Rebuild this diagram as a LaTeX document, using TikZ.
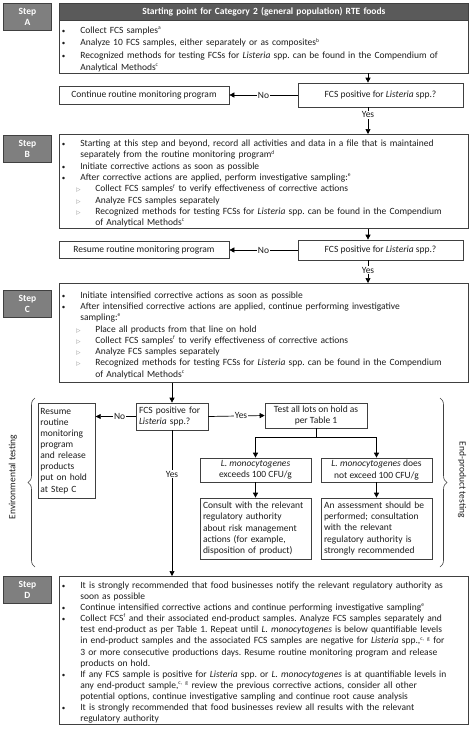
\documentclass[tikz,border=0pt]{standalone}
\usepackage{fontspec}
\setmainfont{Carlito}
\newfontfamily\dejavu{DejaVu Sans}
\usetikzlibrary{arrows.meta,decorations.pathreplacing,calc}
\definecolor{stepgray}{HTML}{7F7F7F}
\definecolor{hdrgray}{HTML}{5A5A5A}
\definecolor{bordergray}{HTML}{404040}
\definecolor{txtc}{HTML}{1E1E1E}
\frenchspacing
\newcommand\fnm[1]{\textsuperscript{\fontsize{5.5}{6}\selectfont #1}}
\newcommand\nl{\hfil\break}
\newcommand\bitem[1]{\par\hangindent=21pt\hangafter=1\noindent\makebox[21pt][l]{\hspace{2.5pt}{\fontsize{7}{8}\selectfont\textbullet}}#1}
\newcommand\sitem[1]{\par\hangindent=36pt\hangafter=1\noindent\hspace*{17pt}\makebox[19pt][l]{{\dejavu\fontsize{5.5}{6}\selectfont\color{gray}▷}}#1}
\begin{document}
\begin{tikzpicture}[x=1pt,y=-1pt,
  every node/.style={font=\fontsize{9.5}{11.3}\selectfont\frenchspacing, text=txtc},
  stepbox/.style={draw=bordergray, fill=stepgray, line width=0.8pt, text=white,
    font=\fontsize{9.5}{11}\selectfont\bfseries, minimum width=48pt, minimum height=27pt,
    inner sep=0pt, align=center, anchor=north west},
  mainbox/.style={draw=bordergray, line width=0.7pt, fill=white, inner xsep=0pt, inner ysep=1pt,
    text width=409pt, align=left, anchor=north west},
  smallbox/.style={draw=bordergray, line width=0.7pt, fill=white, inner sep=1.5pt, align=center},
  arr/.style={line width=0.7pt, -{Triangle[length=5pt,width=5pt]}},
  lbl/.style={fill=white, inner sep=1pt, font=\fontsize{9.5}{11}\selectfont}
]
\useasboundingbox (0,0) rectangle (474,732);
\fill[white] (0,0) rectangle (474,732);

% ---- Step A
\node[stepbox] (stepA) at (3,3) {Step\\A};
\node[mainbox, fill=hdrgray, text=white, minimum height=17pt, align=center,
  font=\fontsize{9.5}{11}\selectfont\bfseries] (hdrA) at (59,3)
  {Starting point for Category 2 (general population) RTE foods};
\node[mainbox, minimum height=51pt] (boxA) at (59,20) {\fontsize{9.5}{12.3}\selectfont
  \bitem{Collect FCS samples\fnm{a}}
  \bitem{Analyze 10 FCS samples, either separately or as composites\fnm{b}}
  \bitem{Recognized methods for testing FCSs for \textit{Listeria} spp. can be found in the Compendium of\nl Analytical Methods\fnm{c}}\par};
\node[smallbox, minimum width=165pt, minimum height=24pt] (fcsA) at (380.5,95) {FCS positive for \textit{Listeria} spp.?};
\node[smallbox, minimum width=170pt, minimum height=18pt] (contA) at (144,95) {Continue routine monitoring program};
\coordinate (colR) at (368,0);

% ---- Step B
\node[stepbox] (stepB) at (3,135) {Step\\B};
\node[mainbox, minimum height=94pt] (boxB) at (59,134) {
  \bitem{Starting at this step and beyond, record all activities and data in a file that is maintained\nl separately from the routine monitoring program\fnm{d}}
  \bitem{Initiate corrective actions as soon as possible}
  \bitem{After corrective actions are applied, perform investigative sampling:\fnm{e}}
  \sitem{Collect FCS samples\fnm{f} to verify effectiveness of corrective actions}
  \sitem{Analyze FCS samples separately}
  \sitem{Recognized methods for testing FCSs for \textit{Listeria} spp. can be found in the Compendium\nl of Analytical Methods\fnm{c}}\par};
\node[smallbox, minimum width=165pt, minimum height=20pt] (fcsB) at (380.5,250) {FCS positive for \textit{Listeria} spp.?};
\node[smallbox, minimum width=170pt, minimum height=17pt] (resB) at (144,250) {Resume routine monitoring program};

% ---- Step C
\node[stepbox] (stepC) at (3,290) {Step\\C};
\node[mainbox, minimum height=99pt] (boxC) at (59,283) {
  \bitem{Initiate intensified corrective actions as soon as possible}
  \bitem{After intensified corrective actions are applied, continue performing investigative\nl sampling:\fnm{e}}
  \sitem{Place all products from that line on hold}
  \sitem{Collect FCS samples\fnm{f} to verify effectiveness of corrective actions}
  \sitem{Analyze FCS samples separately}
  \sitem{Recognized methods for testing FCSs for \textit{Listeria} spp. can be found in the Compendium\nl of Analytical Methods\fnm{c}}\par};

\node[smallbox, minimum width=72pt, minimum height=27pt, align=left, text width=66pt] (fcsC) at (172,416.5) {FCS positive for\\\textit{Listeria} spp.?};
\node[smallbox, minimum width=57pt, minimum height=95pt, align=left, text width=53pt, anchor=north west, inner sep=2pt] (resC) at (38,403)
  {\fontsize{9.5}{11.1}\selectfont Resume\\routine\\monitoring\\program\\and release\\products\\put on hold\\at Step C};
\node[smallbox, minimum width=102pt, minimum height=25pt] (lots) at (316,415.5) {Test all lots on hold as\\per Table 1};
\node[smallbox, minimum width=111pt, minimum height=24pt] (lm1) at (255.5,470) {\textit{L. monocytogenes}\\exceeds 100 CFU/g};
\node[smallbox, minimum width=111pt, minimum height=24pt] (lm2) at (376.5,470) {\textit{L. monocytogenes} does\\not exceed 100 CFU/g};
\node[smallbox, minimum width=111pt, minimum height=61pt, align=left, text width=105pt] (cons) at (255.5,528.5)
  {Consult with the relevant\\regulatory authority\\about risk management\\actions (for example,\\disposition of product)};
\node[smallbox, minimum width=111pt, minimum height=61pt, align=left, text width=105pt] (asse) at (376.5,528.5)
  {An assessment should be\\performed; consultation\\with the relevant\\regulatory authority is\\strongly recommended};

% braces
\coordinate (lbB) at (35,567); \coordinate (lbT) at (35,398);
\coordinate (rbT) at (440,398); \coordinate (rbB) at (440,567);
\draw[line width=0.6pt, bordergray, decorate, decoration={brace, amplitude=7pt}] (lbB) -- (lbT);
\draw[line width=0.6pt, bordergray, decorate, decoration={brace, amplitude=7pt}] (rbT) -- (rbB);
\node[rotate=90, font=\fontsize{9.5}{11}\selectfont] (envt) at (13,477) {Environmental testing};
\node[rotate=-90, font=\fontsize{9.5}{11}\selectfont] (endt) at (462,480) {End-product testing};

% ---- Step D
\node[stepbox] (stepD) at (3,576) {Step\\D};
\node[mainbox, minimum height=145pt] (boxD) at (59,576) {\fontsize{9.5}{11.1}\selectfont
  \bitem{It is strongly recommended that food businesses notify the relevant regulatory authority as\nl soon as possible}
  \bitem{Continue intensified corrective actions and continue performing investigative sampling\fnm{e}}
  \bitem{Collect FCS\fnm{f} and their associated end-product samples. Analyze FCS samples separately and\nl test end-product as per Table 1. Repeat until \textit{L. monocytogenes} is below quantifiable levels\nl in end-product samples and the associated FCS samples are negative for \textit{Listeria} spp.,\fnm{c, g} for\nl 3 or more consecutive productions days. Resume routine monitoring program and release\nl products on hold.}
  \bitem{If any FCS sample is positive for \textit{Listeria} spp. or \textit{L. monocytogenes} is at quantifiable levels in\nl any end-product sample,\fnm{c, g} review the previous corrective actions, consider all other\nl potential options, continue investigative sampling and continue root cause analysis}
  \bitem{It is strongly recommended that food businesses review all results with the relevant\nl regulatory authority}\par};

% ---- connectors
\draw[arr] (boxA.south -| colR) -- (fcsA.north -| colR);
\draw[arr] (fcsA.west) -- node[lbl] {No} (contA.east);
\draw[arr] (fcsA.south -| colR) -- node[lbl, pos=0.28] {Yes} (boxB.north -| colR);
\draw[arr] (boxB.south -| colR) -- (fcsB.north -| colR);
\draw[arr] (fcsB.west) -- node[lbl] {No} (resB.east);
\draw[arr] (fcsB.south -| colR) -- node[lbl, pos=0.43] {Yes} (boxC.north -| colR);
\draw[arr] (boxC.south -| fcsC.north) -- (fcsC.north);
\draw[arr] (fcsC.west) -- node[lbl, pos=0.4] {No} (resC.east |- fcsC.west);
\draw[arr] (fcsC.east) -- node[lbl, pos=0.58] {Yes} (lots.west);
\draw[arr] (fcsC.south) -- node[lbl, pos=0.3] {Yes} (boxD.north -| fcsC.south);
\draw[arr] (lots.south) |- ($(lm1.north)+(0,-20)$) -- (lm1.north);
\draw[arr] (lots.south) |- ($(lm2.north)+(0,-20)$) -- (lm2.north);
\draw[arr] (lm1.south) -- (cons.north);
\draw[arr] (lm2.south) -- (asse.north);
\end{tikzpicture}
\end{document}
